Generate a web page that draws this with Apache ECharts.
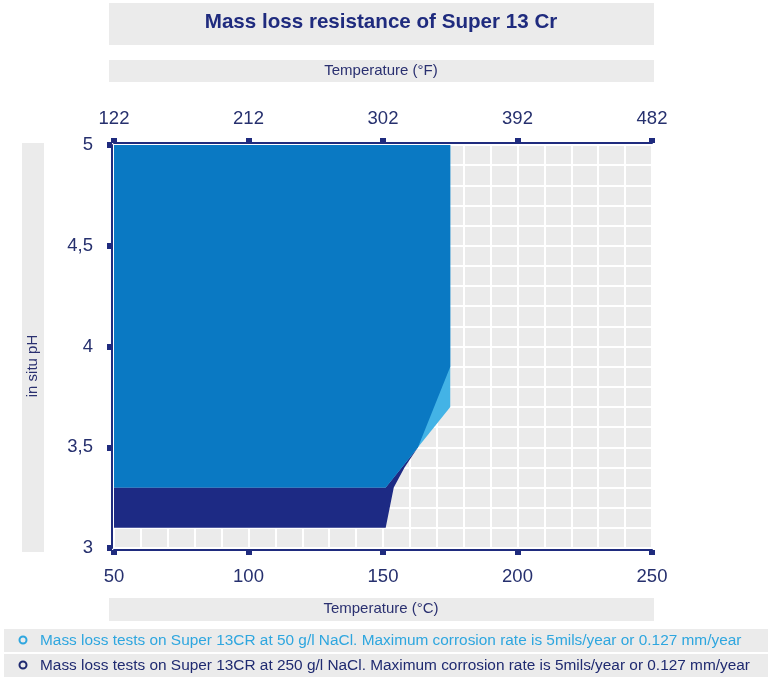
<!DOCTYPE html>
<html>
<head>
<meta charset="utf-8">
<script src="https://cdn.jsdelivr.net/npm/echarts@6/dist/echarts.min.js"></script>
<style>
  html, body { margin: 0; padding: 0; background: #fff; }
  #chart { width: 768px; height: 680px; }
</style>
</head>
<body>
<div id="chart"></div>
<script>
// polygons in (°C, pH)
var regionLight = [[50, 5], [175, 5], [175, 3.7], [163, 3.5], [151, 3.3], [50, 3.3]];
var regionNavy = [[50, 3.1], [151, 3.1], [154, 3.3], [158, 3.4], [163, 3.5], [151, 3.3], [50, 3.3]];
var regionMid = [[50, 5], [175, 5], [175, 3.9], [163, 3.5], [151, 3.3], [50, 3.3]];

var legendTexts = [
  'Mass loss tests on Super 13CR at 50 g/l NaCl. Maximum corrosion rate is 5mils/year or 0.127 mm/year',
  'Mass loss tests on Super 13CR at 250 g/l NaCl. Maximum corrosion rate is 5mils/year or 0.127 mm/year'
];

var navy = '#1f2b7e';
var grayBox = '#ebebeb';
var font = 'Liberation Sans, Arial, sans-serif';

function polySeries(points, color) {
  return {
    type: 'custom',
    xAxisIndex: 0,
    yAxisIndex: 0,
    silent: true,
    data: points,
    renderItem: function (params, api) {
      if (params.dataIndex !== 0) return;
      var pts = points.map(function (p) { return api.coord(p); });
      return { type: 'polygon', shape: { points: pts }, style: { fill: color } };
    }
  };
}

var axisCommon = {
  type: 'value',
  axisLine: { show: true, onZero: false, lineStyle: { color: navy, width: 2 } },
  axisTick: { show: true, length: 5, lineStyle: { color: navy, width: 6 } },
  axisLabel: { color: '#26306e', fontSize: 18.5, fontFamily: font },
  minorTick: { show: false, splitNumber: 5 },
  splitLine: { show: false },
  minorSplitLine: { show: false }
};

var chart = echarts.init(document.getElementById('chart'));
chart.setOption({
  animation: false,
  grid: {
    left: 114, right: 116, top: 145, bottom: 132,
    show: true, backgroundColor: grayBox, borderWidth: 0
  },
  xAxis: [
    Object.assign({}, axisCommon, {
      position: 'bottom', min: 50, max: 250, interval: 50, offset: 2,
      axisLabel: Object.assign({}, axisCommon.axisLabel, { margin: 17 }),
      splitLine: { show: true, lineStyle: { color: '#fff', width: 2 } },
      minorSplitLine: { show: true, lineStyle: { color: '#fff', width: 2 } }
    }),
    Object.assign({}, axisCommon, {
      position: 'top', min: 50, max: 250, interval: 50, offset: 2,
      axisLabel: Object.assign({}, axisCommon.axisLabel, {
        margin: 15,
        formatter: function (v) { return String(Math.round(v * 9 / 5 + 32)); }
      })
    })
  ],
  yAxis: Object.assign({}, axisCommon, {
    min: 3, max: 5, interval: 0.5, offset: 2,
    axisLabel: Object.assign({}, axisCommon.axisLabel, {
      margin: 19,
      formatter: function (v) { return String(v).replace('.', ','); }
    }),
    splitLine: { show: true, lineStyle: { color: '#fff', width: 2 } },
    minorSplitLine: { show: true, lineStyle: { color: '#fff', width: 2 } }
  }),
  series: [
    polySeries(regionLight, '#43b3e6'),
    polySeries(regionNavy, '#1d2a84'),
    polySeries(regionMid, '#0a79c3')
  ],
  graphic: [
    { type: 'rect', shape: { x: 109, y: 3, width: 545, height: 42 }, style: { fill: grayBox } },
    { type: 'text', x: 381, y: 22, style: { text: 'Mass loss resistance of Super 13 Cr', fill: navy,
      font: 'bold 20.6px ' + font, textAlign: 'center', textVerticalAlign: 'middle' } },
    { type: 'rect', shape: { x: 109, y: 60, width: 545, height: 22 }, style: { fill: grayBox } },
    { type: 'text', x: 381, y: 71, style: { text: 'Temperature (°F)', fill: '#2a3070',
      font: '15px ' + font, textAlign: 'center', textVerticalAlign: 'middle' } },
    { type: 'rect', shape: { x: 22, y: 143, width: 22, height: 409 }, style: { fill: grayBox } },
    { type: 'text', x: 33, y: 366, rotation: Math.PI / 2, style: { text: 'in situ pH', fill: '#2a3070',
      font: '15px ' + font, textAlign: 'center', textVerticalAlign: 'middle' } },
    { type: 'rect', shape: { x: 109, y: 598, width: 545, height: 23 }, style: { fill: grayBox } },
    { type: 'text', x: 381, y: 609, style: { text: 'Temperature (°C)', fill: '#2a3070',
      font: '15px ' + font, textAlign: 'center', textVerticalAlign: 'middle' } },
    { type: 'rect', shape: { x: 4, y: 629, width: 764, height: 23 }, style: { fill: grayBox } },
    { type: 'circle', shape: { cx: 23, cy: 640, r: 3.5 }, style: { fill: 'none', stroke: '#2ea6df', lineWidth: 2 } },
    { type: 'text', x: 40, y: 641, style: { text: legendTexts[0], fill: '#2ea6df',
      font: '15.4px ' + font, textVerticalAlign: 'middle' } },
    { type: 'rect', shape: { x: 4, y: 654, width: 764, height: 23 }, style: { fill: grayBox } },
    { type: 'circle', shape: { cx: 23, cy: 665, r: 3.5 }, style: { fill: 'none', stroke: '#1f2a70', lineWidth: 2 } },
    { type: 'text', x: 40, y: 666, style: { text: legendTexts[1], fill: '#1f2a70',
      font: '15.4px ' + font, textVerticalAlign: 'middle' } }
  ]
});
</script>
</body>
</html>
